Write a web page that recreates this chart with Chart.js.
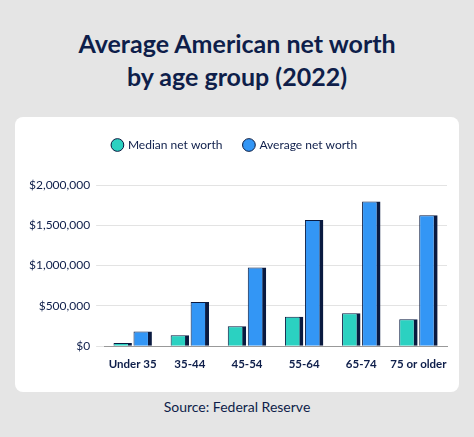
<!DOCTYPE html><html><head><script src="https://cdn.jsdelivr.net/npm/chart.js@4"></script>
<style>body{margin:0;background:#e5e5e5;width:474px;height:437px;overflow:hidden;font-family:Lato,"Open Sans",sans-serif}
h1{margin:0;position:absolute;top:27px;width:474px;text-align:center;font-size:25px;line-height:33px;color:#0e1e4a;font-weight:700}
#panel{position:absolute;left:15px;top:117px;width:444px;height:275px;background:#fff;border-radius:8px}
#src{position:absolute;top:398px;width:474px;text-align:center;font-size:14px;color:#0e1e4a}
</style></head><body>
<h1>Average American net worth<br>by age group (2022)</h1>
<div id="panel"><canvas id="c" width="444" height="275"></canvas></div>
<div id="src">Source: Federal Reserve</div>
<script>
const categories=["Under 35","35-44","45-54","55-64","65-74","75 or older"];
const median=[39040,135600,247200,364500,409900,335600];
const average=[183500,549600,975800,1566900,1794600,1624100];
const ticks=[0,500000,1000000,1500000,2000000];
const dark="#0a1a40";
const legendPad={id:'legendPad',beforeInit(c){const f=c.legend.fit;c.legend.fit=function(){f.call(this);this.height+=24;};}};
new Chart(document.getElementById('c'),{type:'bar',data:{labels:categories,datasets:[
{label:'Median net worth',data:median,backgroundColor:'#2bd1c1',borderColor:dark,borderWidth:{top:1,left:1,bottom:0,right:4},borderSkipped:false},
{label:'Average net worth',data:average,backgroundColor:'#3396f5',borderColor:dark,borderWidth:{top:1,left:1,bottom:0,right:4},borderSkipped:false}]},
plugins:[legendPad],
options:{responsive:false,animation:false,layout:{padding:{left:8,right:12,top:0,bottom:18}},
datasets:{bar:{categoryPercentage:0.7,barPercentage:0.92}},
plugins:{legend:{labels:{usePointStyle:true,pointStyle:'circle',boxWidth:9,boxHeight:9,padding:22,color:'#0e1e4a',font:{family:'Lato',size:12},
generateLabels(ch){return ch.data.datasets.map((d,i)=>({text:d.label,fillStyle:d.backgroundColor,strokeStyle:dark,lineWidth:1,pointStyle:'circle',datasetIndex:i,fontColor:'#0e1e4a'}));}}},tooltip:{enabled:false}},
scales:{x:{grid:{display:false},border:{color:'#999'},ticks:{maxRotation:0,autoSkip:false,color:'#0e1e4a',font:{family:'Lato',size:11.5,weight:'bold'}}},
y:{min:0,max:2000000,afterBuildTicks(a){a.ticks=ticks.map(v=>({value:v}));},border:{display:false},grid:{color:'#e3e3e3'},
ticks:{padding:6,color:'#0e1e4a',font:{family:'Lato',size:12},callback:v=>'$'+v.toLocaleString('en-US')}}}}});
</script></body></html>
